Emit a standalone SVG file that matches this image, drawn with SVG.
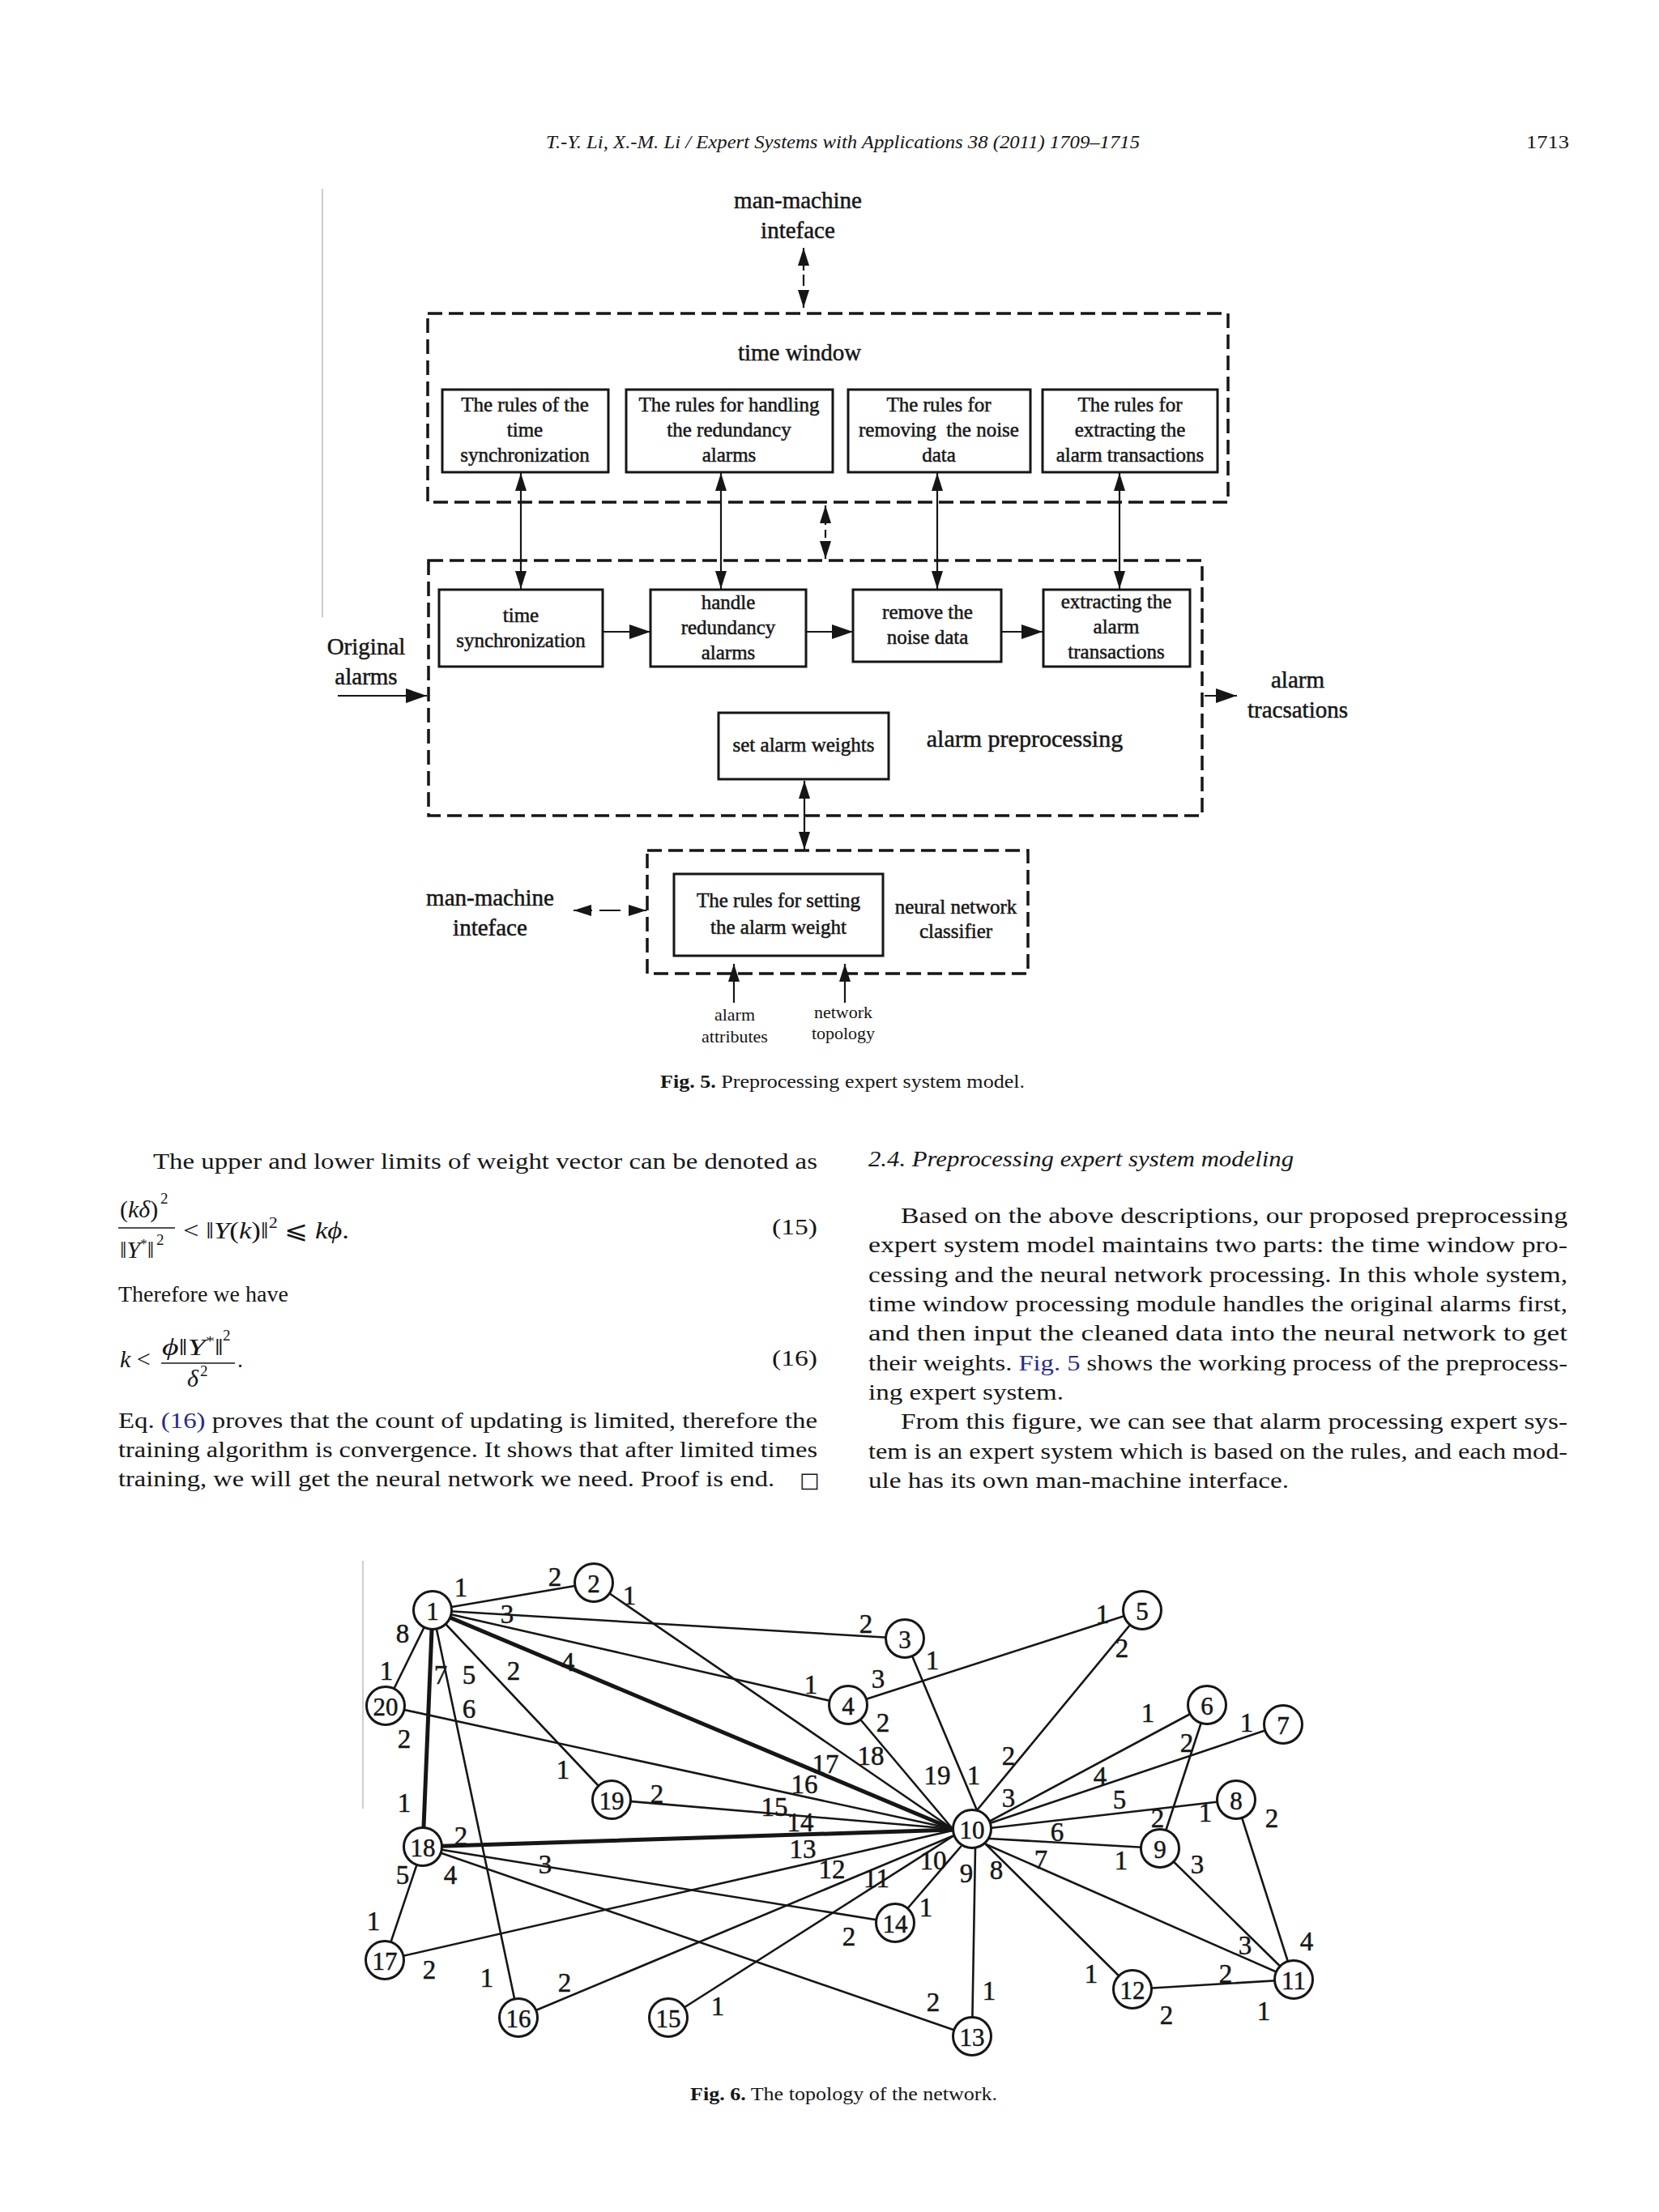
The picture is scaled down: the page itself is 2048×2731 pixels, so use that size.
<svg xmlns="http://www.w3.org/2000/svg" width="2048" height="2731" viewBox="0 0 2048 2731">
<style>
.t{font-family:"Liberation Serif","DejaVu Serif",serif;fill:#161616}
.it{font-style:italic}
.c{text-anchor:middle}
.fw{stroke:#161616;stroke-width:0.5}
.f5{font-size:29px}
.bx{font-size:25px}
.sm{font-size:22px}
.body{font-size:28px}
.cap{font-size:23px}
.lab{font-size:33px;text-anchor:middle;stroke:#161616;stroke-width:0.5}
.nd{font-size:31px;text-anchor:middle;stroke:#161616;stroke-width:0.5}
.link{fill:#2a2a8c}
.dbox{fill:none;stroke:#161616;stroke-width:3.5;stroke-dasharray:18 8}
.sbox{fill:#fff;stroke:#161616;stroke-width:3}
.ar{stroke:#161616;stroke-width:2.2;fill:none}
.e{stroke:#161616;stroke-width:2.6;fill:none;stroke-linecap:round}
.ek{stroke:#161616;stroke-width:5;fill:none;stroke-linecap:round}
.node{fill:#fff;stroke:#161616;stroke-width:3}
.scan{stroke:#bdbdbd;stroke-width:1.5}
</style>
<defs>
<marker id="ah" viewBox="0 0 22 14" refX="22" refY="7" markerWidth="22" markerHeight="14" markerUnits="userSpaceOnUse" orient="auto-start-reverse"><path d="M0,0 L22,7 L0,14 z" fill="#161616"/></marker>
<marker id="ahb" viewBox="0 0 26 18" refX="26" refY="9" markerWidth="26" markerHeight="18" markerUnits="userSpaceOnUse" orient="auto"><path d="M0,0 L26,9 L0,18 z" fill="#161616"/></marker>
</defs>
<rect width="2048" height="2731" fill="#fff"/>

<!-- header -->
<g id="header">
<text class="t it" x="674" y="183" font-size="24" textLength="733" lengthAdjust="spacingAndGlyphs">T.-Y. Li, X.-M. Li / Expert Systems with Applications 38 (2011) 1709–1715</text>
<text class="t" x="1884" y="183" font-size="24" textLength="53" lengthAdjust="spacingAndGlyphs">1713</text>
</g>

<!-- scan artifacts -->
<line class="scan" x1="398" y1="233" x2="398" y2="762"/>
<line class="scan" x1="448" y1="1927" x2="448" y2="2233"/>

<!-- ================= Fig. 5 ================= -->
<g id="fig5">
<g id="f5-connectors">
<line class="ar" x1="992" y1="306" x2="992" y2="380" stroke-dasharray="28 5 14 5 100" marker-start="url(#ah)" marker-end="url(#ah)"/>
<line class="ar" x1="643" y1="584" x2="643" y2="727" marker-start="url(#ah)" marker-end="url(#ah)"/>
<line class="ar" x1="890" y1="584" x2="890" y2="727" marker-start="url(#ah)" marker-end="url(#ah)"/>
<line class="ar" x1="1157" y1="584" x2="1157" y2="727" marker-start="url(#ah)" marker-end="url(#ah)"/>
<line class="ar" x1="1382" y1="584" x2="1382" y2="727" marker-start="url(#ah)" marker-end="url(#ah)"/>
<line class="ar" x1="1019" y1="624" x2="1019" y2="690" stroke-dasharray="24 6 10 8 100" marker-start="url(#ah)" marker-end="url(#ah)"/>
<line class="ar" stroke-width="4" x1="745" y1="780" x2="803" y2="780" marker-end="url(#ahb)"/>
<line class="ar" stroke-width="4" x1="996" y1="780" x2="1053" y2="780" marker-end="url(#ahb)"/>
<line class="ar" stroke-width="4" x1="1237" y1="780" x2="1287" y2="780" marker-end="url(#ahb)"/>
<line class="ar" stroke-width="3" x1="417" y1="859" x2="527" y2="859" marker-end="url(#ahb)"/>
<line class="ar" stroke-width="3" x1="1487" y1="859" x2="1527" y2="859" marker-end="url(#ahb)"/>
<line class="ar" x1="993" y1="964" x2="993" y2="1049" marker-start="url(#ah)" marker-end="url(#ah)"/>
<line class="ar" x1="708" y1="1124" x2="798" y2="1124" stroke-dasharray="23 9 26 10 100" marker-start="url(#ah)" marker-end="url(#ah)"/>
<line class="ar" x1="906" y1="1238" x2="906" y2="1190" marker-end="url(#ah)"/>
<line class="ar" x1="1043" y1="1238" x2="1043" y2="1190" marker-end="url(#ah)"/>
</g>

<g id="mmi-top"><text class="t f5 c fw" x="985" y="257">man-machine</text><text class="t f5 c fw" x="985" y="294">inteface</text></g>

<g id="time-window">
<rect class="dbox" x="528" y="387" width="988" height="233"/>
<text class="t f5 c fw" x="987" y="445">time window</text>
</g>
<g id="rule-sync"><rect class="sbox" x="546" y="481" width="205" height="102"/>
<text class="t bx c fw" x="648" y="508">The rules of the</text><text class="t bx c fw" x="648" y="539">time</text><text class="t bx c fw" x="648" y="570">synchronization</text></g>
<g id="rule-redund"><rect class="sbox" x="773" y="481" width="255" height="102"/>
<text class="t bx c fw" x="900" y="508">The rules for handling</text><text class="t bx c fw" x="900" y="539">the redundancy</text><text class="t bx c fw" x="900" y="570">alarms</text></g>
<g id="rule-noise"><rect class="sbox" x="1047" y="481" width="225" height="102"/>
<text class="t bx c fw" x="1159" y="508">The rules for</text><text class="t bx c fw" x="1159" y="539" xml:space="preserve">removing  the noise</text><text class="t bx c fw" x="1159" y="570">data</text></g>
<g id="rule-extract"><rect class="sbox" x="1287" y="481" width="216" height="102"/>
<text class="t bx c fw" x="1395" y="508">The rules for</text><text class="t bx c fw" x="1395" y="539">extracting the</text><text class="t bx c fw" x="1395" y="570">alarm transactions</text></g>

<g id="alarm-preprocessing">
<rect class="dbox" x="529" y="692" width="955" height="315"/>
<text class="t c fw" font-size="30" x="1265" y="922">alarm preprocessing</text>
</g>
<g id="time-sync"><rect class="sbox" x="542" y="728" width="202" height="95"/>
<text class="t bx c fw" x="643" y="768">time</text><text class="t bx c fw" x="643" y="799">synchronization</text></g>
<g id="handle-redund"><rect class="sbox" x="803" y="728" width="192" height="95"/>
<text class="t bx c fw" x="899" y="752">handle</text><text class="t bx c fw" x="899" y="783">redundancy</text><text class="t bx c fw" x="899" y="814">alarms</text></g>
<g id="remove-noise"><rect class="sbox" x="1053" y="728" width="183" height="89"/>
<text class="t bx c fw" x="1145" y="764">remove the</text><text class="t bx c fw" x="1145" y="795">noise data</text></g>
<g id="extract-trans"><rect class="sbox" x="1288" y="728" width="181" height="95"/>
<text class="t bx c fw" x="1378" y="751">extracting the</text><text class="t bx c fw" x="1378" y="782">alarm</text><text class="t bx c fw" x="1378" y="813">transactions</text></g>
<g id="set-weights"><rect class="sbox" x="887" y="880" width="210" height="82"/>
<text class="t bx c fw" x="992" y="928">set alarm weights</text></g>

<g id="original-alarms"><text class="t f5 c fw" x="452" y="808">Original</text><text class="t f5 c fw" x="452" y="845">alarms</text></g>
<g id="alarm-trans-out"><text class="t f5 c fw" x="1602" y="849">alarm</text><text class="t f5 c fw" x="1602" y="886">tracsations</text></g>

<g id="nn-classifier">
<rect class="dbox" x="799" y="1050" width="470" height="152"/>
<text class="t bx c fw" x="1180" y="1128">neural network</text><text class="t bx c fw" x="1180" y="1158">classifier</text>
</g>
<g id="rules-weight"><rect class="sbox" x="832" y="1079" width="258" height="101"/>
<text class="t bx c fw" x="961" y="1120">The rules for setting</text><text class="t bx c fw" x="961" y="1153">the alarm weight</text></g>
<g id="mmi-left"><text class="t f5 c fw" x="605" y="1118">man-machine</text><text class="t f5 c fw" x="605" y="1155">inteface</text></g>
<g id="alarm-attr"><text class="t sm c" x="907" y="1260">alarm</text><text class="t sm c" x="907" y="1287">attributes</text></g>
<g id="net-topo"><text class="t sm c" x="1041" y="1257">network</text><text class="t sm c" x="1041" y="1283">topology</text></g>

<text class="t cap" x="815" y="1343" textLength="450" lengthAdjust="spacingAndGlyphs"><tspan font-weight="bold">Fig. 5.</tspan>  Preprocessing expert system model.</text>
</g>

<!-- ================= body text ================= -->
<g id="left-column" class="t body">
<text x="189" y="1443" textLength="820" lengthAdjust="spacingAndGlyphs">The upper and lower limits of weight vector can be denoted as</text>
<!-- eq 15 -->
<text x="148" y="1503" font-size="30">(<tspan class="it">kδ</tspan>)</text>
<text x="198" y="1486" font-size="19">2</text>
<line x1="146" y1="1516" x2="216" y2="1516" stroke="#161616" stroke-width="1.6"/>
<text x="148" y="1553" font-size="30">‖<tspan class="it">Y</tspan><tspan font-size="17" dy="-12">*</tspan><tspan dy="12">‖</tspan></text>
<text x="193" y="1537" font-size="19">2</text>
<text x="226" y="1529" font-size="30" textLength="205" lengthAdjust="spacingAndGlyphs">&lt; ‖<tspan class="it">Y</tspan>(<tspan class="it">k</tspan>)‖<tspan font-size="19" dy="-13">2</tspan><tspan dy="13"> ⩽ </tspan><tspan class="it">kϕ</tspan>.</text>
<text x="953" y="1524" textLength="56" lengthAdjust="spacingAndGlyphs">(15)</text>
<text x="146" y="1607">Therefore we have</text>
<!-- eq 16 -->
<text x="148" y="1688" font-size="30"><tspan class="it">k</tspan> &lt;</text>
<text x="200" y="1673" font-size="30" textLength="76" lengthAdjust="spacingAndGlyphs"><tspan class="it">ϕ</tspan>‖<tspan class="it">Y</tspan><tspan font-size="17" dy="-12">*</tspan><tspan dy="12">‖</tspan></text>
<text x="275" y="1655" font-size="19">2</text>
<line x1="199" y1="1683" x2="290" y2="1683" stroke="#161616" stroke-width="1.6"/>
<text x="231" y="1712" class="it" font-size="30">δ</text>
<text x="247" y="1699" font-size="19">2</text>
<text x="293" y="1688">.</text>
<text x="953" y="1686" textLength="56" lengthAdjust="spacingAndGlyphs">(16)</text>
<text x="146" y="1763" textLength="863" lengthAdjust="spacingAndGlyphs">Eq. <tspan class="link">(16)</tspan> proves that the count of updating is limited, therefore the</text>
<text x="146" y="1799" textLength="863" lengthAdjust="spacingAndGlyphs">training algorithm is convergence. It shows that after limited times</text>
<text x="146" y="1835" textLength="810" lengthAdjust="spacingAndGlyphs">training, we will get the neural network we need. Proof is end.</text>
<text x="987" y="1836" font-family="DejaVu Sans,sans-serif" font-size="26">□</text>
</g>

<g id="right-column" class="t body">
<text class="it" x="1072" y="1440" textLength="525" lengthAdjust="spacingAndGlyphs">2.4. Preprocessing expert system modeling</text>
<text x="1112" y="1510" textLength="823" lengthAdjust="spacingAndGlyphs">Based on the above descriptions, our proposed preprocessing</text>
<text x="1072" y="1546" textLength="863" lengthAdjust="spacingAndGlyphs">expert system model maintains two parts: the time window pro-</text>
<text x="1072" y="1583" textLength="863" lengthAdjust="spacingAndGlyphs">cessing and the neural network processing. In this whole system,</text>
<text x="1072" y="1619" textLength="863" lengthAdjust="spacingAndGlyphs">time window processing module handles the original alarms first,</text>
<text x="1072" y="1655" textLength="863" lengthAdjust="spacingAndGlyphs">and then input the cleaned data into the neural network to get</text>
<text x="1072" y="1692" textLength="863" lengthAdjust="spacingAndGlyphs">their weights. <tspan class="link">Fig. 5</tspan> shows the working process of the preprocess-</text>
<text x="1072" y="1728" textLength="241" lengthAdjust="spacingAndGlyphs">ing expert system.</text>
<text x="1112" y="1764" textLength="823" lengthAdjust="spacingAndGlyphs">From this figure, we can see that alarm processing expert sys-</text>
<text x="1072" y="1801" textLength="863" lengthAdjust="spacingAndGlyphs">tem is an expert system which is based on the rules, and each mod-</text>
<text x="1072" y="1837" textLength="519" lengthAdjust="spacingAndGlyphs">ule has its own man-machine interface.</text>
</g>

<!-- ================= Fig. 6 ================= -->
<g id="fig6">
<g id="f6-connectors">
<line class="e" x1="534" y1="1988" x2="733" y2="1954"/>
<line class="e" x1="534" y1="1988" x2="1117" y2="2023"/>
<line class="e" x1="534" y1="1988" x2="1047" y2="2105"/>
<line class="ek" x1="534" y1="1988" x2="1176" y2="2258"/>
<line class="e" x1="534" y1="1988" x2="755" y2="2222"/>
<line class="e" x1="534" y1="1988" x2="640" y2="2491"/>
<line class="ek" x1="534" y1="1988" x2="522" y2="2280"/>
<line class="e" x1="534" y1="1988" x2="476" y2="2106"/>
<line class="e" x1="733" y1="1954" x2="1176" y2="2258"/>
<line class="e" x1="1117" y1="2023" x2="1206" y2="2235"/>
<line class="e" x1="1047" y1="2105" x2="1410" y2="1988"/>
<line class="e" x1="1047" y1="2105" x2="1176" y2="2258"/>
<line class="e" x1="1410" y1="1988" x2="1206" y2="2235"/>
<line class="e" x1="1490" y1="2105" x2="1219" y2="2250"/>
<line class="e" x1="1490" y1="2105" x2="1432" y2="2282"/>
<line class="e" stroke-width="8" x1="1584" y1="2129" x2="1219" y2="2252"/>
<line class="e" x1="1526" y1="2222" x2="1222" y2="2257"/>
<line class="e" x1="1526" y1="2222" x2="1597" y2="2444"/>
<line class="e" x1="1432" y1="2282" x2="1221" y2="2270"/>
<line class="e" x1="1432" y1="2282" x2="1597" y2="2444"/>
<line class="e" x1="1217" y1="2277" x2="1597" y2="2444"/>
<line class="e" x1="1217" y1="2277" x2="1398" y2="2456"/>
<line class="e" x1="1204" y1="2281" x2="1200" y2="2514"/>
<line class="e" x1="1186" y1="2280" x2="1105" y2="2374"/>
<line class="e" x1="1178" y1="2266" x2="825" y2="2491"/>
<line class="e" x1="1178" y1="2266" x2="640" y2="2491"/>
<line class="e" x1="1176" y1="2260" x2="475" y2="2420"/>
<line class="ek" x1="1176" y1="2259" x2="522" y2="2280"/>
<line class="e" x1="1176" y1="2258" x2="755" y2="2222"/>
<line class="e" x1="1176" y1="2258" x2="476" y2="2106"/>
<line class="e" x1="1398" y1="2456" x2="1597" y2="2444"/>
<line class="e" x1="522" y1="2280" x2="1200" y2="2514"/>
<line class="e" x1="522" y1="2280" x2="1105" y2="2374"/>
<line class="e" x1="522" y1="2280" x2="475" y2="2420"/>
</g>

<g id="f6-port-labels" class="t lab">
<text x="569" y="1971">1</text><text x="626" y="2004">3</text><text x="497" y="2028">8</text><text x="477" y="2074">1</text>
<text x="544" y="2079">7</text><text x="579" y="2079">5</text><text x="579" y="2121">6</text><text x="634" y="2074">2</text><text x="701" y="2063">4</text>
<text x="685" y="1958">2</text><text x="777" y="1981">1</text>
<text x="499" y="2158">2</text><text x="695" y="2196">1</text><text x="1001" y="2091">1</text>
<text x="1019" y="2189">17</text><text x="993" y="2214">16</text><text x="956" y="2242">15</text><text x="988" y="2261">14</text>
<text x="991" y="2294">13</text><text x="1027" y="2319">12</text><text x="1082" y="2330">11</text><text x="1152" y="2308">10</text>
<text x="1193" y="2324">9</text><text x="1230" y="2320">8</text><text x="1285" y="2307">7</text><text x="1305" y="2273">6</text>
<text x="1382" y="2233">5</text><text x="1358" y="2204">4</text><text x="1245" y="2231">3</text><text x="1245" y="2179">2</text>
<text x="1202" y="2203">1</text><text x="1157" y="2203">19</text><text x="1075" y="2179">18</text>
<text x="811" y="2226">2</text>
<text x="499" y="2237">1</text><text x="569" y="2278">2</text><text x="497" y="2326">5</text><text x="556" y="2326">4</text><text x="673" y="2313">3</text>
<text x="461" y="2383">1</text><text x="530" y="2443">2</text><text x="601" y="2453">1</text><text x="697" y="2459">2</text><text x="886" y="2488">1</text>
<text x="1048" y="2402">2</text><text x="1143" y="2366">1</text><text x="1152" y="2483">2</text><text x="1221" y="2469">1</text>
<text x="1347" y="2448">1</text><text x="1440" y="2499">2</text><text x="1560" y="2494">1</text><text x="1513" y="2448">2</text><text x="1537" y="2413">3</text><text x="1613" y="2408">4</text>
<text x="1478" y="2313">3</text><text x="1384" y="2308">1</text><text x="1429" y="2256">2</text><text x="1488" y="2249">1</text><text x="1570" y="2256">2</text>
<text x="1069" y="2016">2</text><text x="1151" y="2061">1</text><text x="1084" y="2084">3</text><text x="1090" y="2138">2</text>
<text x="1361" y="2004">1</text><text x="1385" y="2046">2</text><text x="1417" y="2126">1</text><text x="1465" y="2163">2</text><text x="1539" y="2138">1</text>
</g>

<g id="n1"><circle class="node" cx="534" cy="1988" r="23.5"/><text class="t nd" x="534" y="2000">1</text></g>
<g id="n2"><circle class="node" cx="733" cy="1954" r="23.5"/><text class="t nd" x="733" y="1966">2</text></g>
<g id="n3"><circle class="node" cx="1117" cy="2023" r="23.5"/><text class="t nd" x="1117" y="2035">3</text></g>
<g id="n4"><circle class="node" cx="1047" cy="2105" r="23.5"/><text class="t nd" x="1047" y="2117">4</text></g>
<g id="n5"><circle class="node" cx="1410" cy="1988" r="23.5"/><text class="t nd" x="1410" y="2000">5</text></g>
<g id="n6"><circle class="node" cx="1490" cy="2105" r="23.5"/><text class="t nd" x="1490" y="2117">6</text></g>
<g id="n7"><circle class="node" cx="1584" cy="2129" r="23.5"/><text class="t nd" x="1584" y="2141">7</text></g>
<g id="n8"><circle class="node" cx="1526" cy="2222" r="23.5"/><text class="t nd" x="1526" y="2234">8</text></g>
<g id="n9"><circle class="node" cx="1432" cy="2282" r="23.5"/><text class="t nd" x="1432" y="2294">9</text></g>
<g id="n10"><circle class="node" cx="1200" cy="2258" r="23.5"/><text class="t nd" x="1200" y="2270">10</text></g>
<g id="n11"><circle class="node" cx="1597" cy="2444" r="23.5"/><text class="t nd" x="1597" y="2456">11</text></g>
<g id="n12"><circle class="node" cx="1398" cy="2456" r="23.5"/><text class="t nd" x="1398" y="2468">12</text></g>
<g id="n13"><circle class="node" cx="1200" cy="2514" r="23.5"/><text class="t nd" x="1200" y="2526">13</text></g>
<g id="n14"><circle class="node" cx="1105" cy="2374" r="23.5"/><text class="t nd" x="1105" y="2386">14</text></g>
<g id="n15"><circle class="node" cx="825" cy="2491" r="23.5"/><text class="t nd" x="825" y="2503">15</text></g>
<g id="n16"><circle class="node" cx="640" cy="2491" r="23.5"/><text class="t nd" x="640" y="2503">16</text></g>
<g id="n17"><circle class="node" cx="475" cy="2420" r="23.5"/><text class="t nd" x="475" y="2432">17</text></g>
<g id="n18"><circle class="node" cx="522" cy="2280" r="23.5"/><text class="t nd" x="522" y="2292">18</text></g>
<g id="n19"><circle class="node" cx="755" cy="2222" r="23.5"/><text class="t nd" x="755" y="2234">19</text></g>
<g id="n20"><circle class="node" cx="476" cy="2106" r="23.5"/><text class="t nd" x="476" y="2118">20</text></g>

<text class="t cap" x="852" y="2593" textLength="379" lengthAdjust="spacingAndGlyphs"><tspan font-weight="bold">Fig. 6.</tspan>  The topology of the network.</text>
</g>
</svg>
